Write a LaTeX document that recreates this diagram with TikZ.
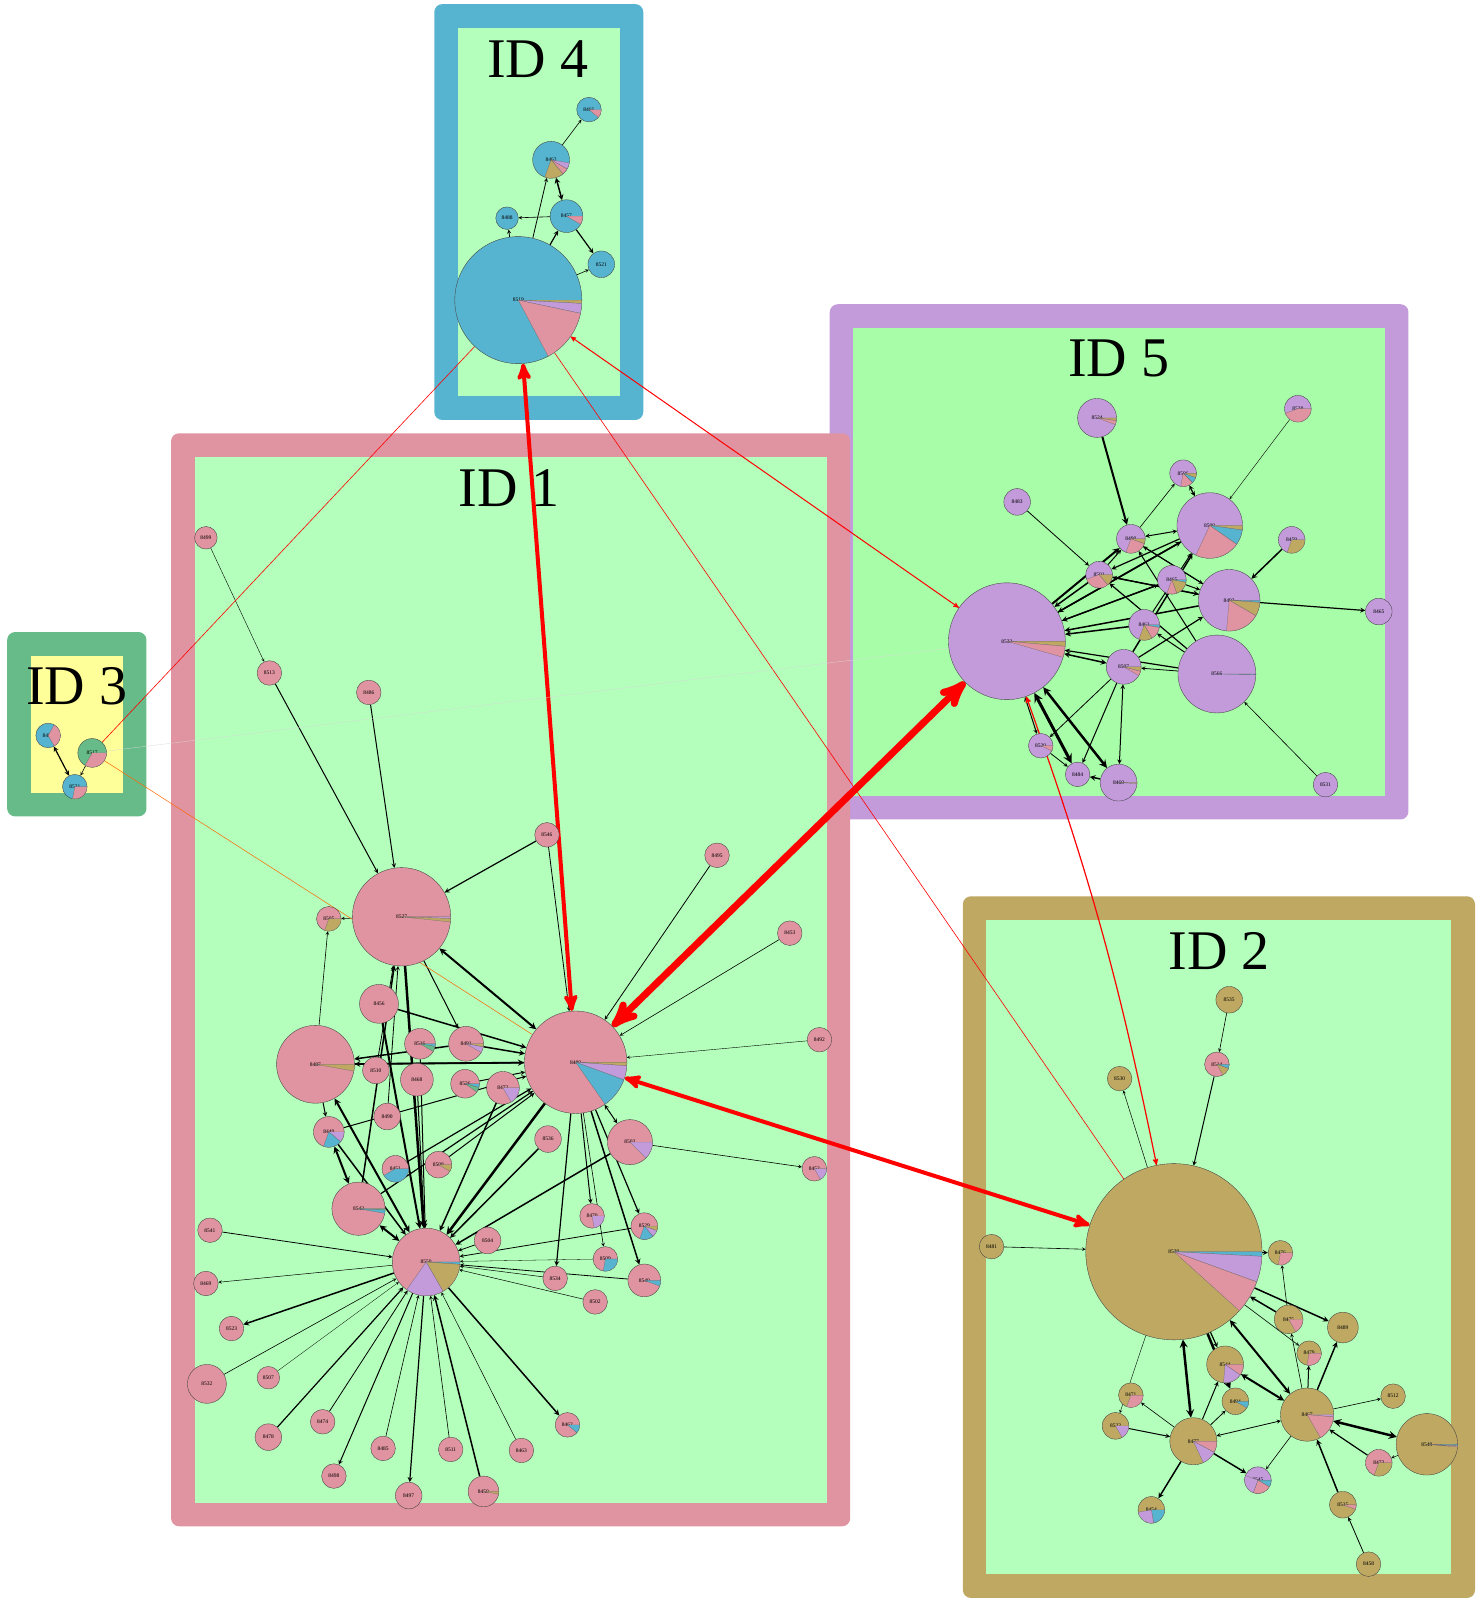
\documentclass[tikz,border=0pt]{standalone}
\usepackage{fontspec}
\setmainfont{Liberation Serif}
\usetikzlibrary{arrows}
\definecolor{pinkC}{HTML}{E093A0}
\definecolor{blueC}{HTML}{56B4D0}
\definecolor{purC}{HTML}{C39BDB}
\definecolor{tanC}{HTML}{BEA862}
\definecolor{grnC}{HTML}{66BB88}
\definecolor{bgA}{HTML}{B3FFBB}
\definecolor{bgB}{HTML}{A8FDA8}
\definecolor{yelC}{HTML}{FFFF99}
\pgfdeclarelayer{bg}
\pgfdeclarelayer{edges}
\pgfsetlayers{bg,edges,main}
% pie node: name, x, y, radius, colour, label
\newcommand{\pn}[6]{\node[pnode,fill=#5,minimum size={2.05*#4pt}] (#1) at (#2,#3) {#6};}
% slice: x, y, radius, from, to, colour
\newcommand{\sls}[6]{\fill[#6,draw=black!60,line width=.2pt] (#1,#2) -- ++(#4:#3) arc[start angle=#4,end angle=#5,radius=#3] -- cycle;}
% cluster box: x1, y1, x2, y2, border, inside, title x, title y, title
\newcommand{\cbox}[9]{%
  \fill[#5,rounded corners=8] (#1,#2) rectangle (#3,#4);
  \fill[#6] ({#1+23},{#2+23}) rectangle ({#3-23},{#4-23});
  \node[idtitle] (t#9) at (#7,#8) {ID #9};}
\begin{document}
\begin{tikzpicture}[x=1.0246pt,y=-1.0246pt,>=stealth,
  pnode/.style={circle,draw=black!75,line width=.35pt,inner sep=0pt,font=\fontsize{5.5}{6}\selectfont},
  idtitle/.style={font=\fontsize{56}{56}\selectfont,inner sep=0pt},
  rline/.style={draw=red,<->,>=stealth'}]
\useasboundingbox (0,0) rectangle (1444.5,1562);
\begin{pgfonlayer}{bg}
\cbox{424}{4}{628}{410}{blueC}{bgA}{525}{58}{4}
\cbox{810}{297}{1375}{800}{purC}{bgB}{1092}{350}{5}
\cbox{167}{423}{830}{1490}{pinkC}{bgA}{497}{476}{1}
\cbox{7}{617}{143}{797}{grnC}{yelC}{75}{670}{3}
\cbox{940}{875}{1440}{1560}{tanC}{bgA}{1190}{928}{2}
\end{pgfonlayer}

% ID 4
\pn{n8466}{575}{107}{12}{blueC}{8466}
\pn{n8462}{538}{156}{18}{blueC}{8462}
\pn{n8457}{553}{211}{16}{blueC}{8457}
\pn{n8488}{495}{213}{11}{blueC}{8488}
\pn{n8521}{587}{258}{13}{blueC}{8521}
\pn{n8519}{506}{293}{62}{blueC}{8519}
\sls{506}{293}{62}{0}{3}{tanC}\sls{506}{293}{62}{3}{12}{purC}\sls{506}{293}{62}{12}{62}{pinkC}
\sls{538}{156}{18}{10}{30}{purC}\sls{538}{156}{18}{30}{50}{pinkC}\sls{538}{156}{18}{50}{110}{tanC}
\sls{575}{107}{12}{0}{40}{pinkC}\sls{553}{211}{16}{0}{30}{pinkC}

% ID 3
\pn{n8482}{47}{718}{12}{blueC}{8482}
\pn{n8517}{90}{735}{14}{grnC}{8517}
\pn{n8521c}{73}{768}{12}{blueC}{8521}
\sls{47}{718}{12}{-60}{60}{pinkC}\sls{90}{735}{14}{0}{120}{pinkC}\sls{73}{768}{12}{0}{100}{pinkC}

% ID 5
\pn{n8524}{1071}{408}{19}{purC}{8524}
\pn{n8538}{1267}{399}{13}{purC}{8538}
\pn{n8483}{993}{490}{13}{purC}{8483}
\pn{n8506}{1155}{462}{13}{purC}{8506}
\pn{n8500}{1181}{513}{32}{purC}{8500}
\pn{n8459}{1261}{527}{13}{purC}{8459}
\pn{n8490}{1104}{526}{14}{purC}{8490}
\pn{n8501}{1073}{561}{13}{purC}{8501}
\pn{n8465}{1144}{566}{14}{purC}{8465}
\pn{n8493}{1200}{586}{30}{purC}{8493}
\pn{n8469}{1346}{597}{13}{purC}{8465}
\pn{n8461}{1117}{610}{15}{purC}{8461}
\pn{n8533}{983}{626}{57}{purC}{8533}
\pn{n8507}{1097}{651}{17}{purC}{8507}
\pn{n8566}{1188}{658}{38}{purC}{8566}
\pn{n8520}{1016}{728}{12}{purC}{8520}
\pn{n8484}{1052}{756}{12}{purC}{8484}
\pn{n8460}{1092}{764}{18}{purC}{8460}
\pn{n8531}{1294}{766}{12}{purC}{8531}
\sls{983}{626}{57}{0}{5}{tanC}\sls{983}{626}{57}{5}{16}{pinkC}
\sls{1181}{513}{32}{0}{8}{tanC}\sls{1181}{513}{32}{8}{35}{blueC}\sls{1181}{513}{32}{35}{115}{pinkC}
\sls{1200}{586}{30}{0}{4}{blueC}\sls{1200}{586}{30}{4}{30}{tanC}\sls{1200}{586}{30}{30}{95}{pinkC}
\sls{1071}{408}{19}{0}{8}{tanC}\sls{1071}{408}{19}{8}{20}{pinkC}
\sls{1267}{399}{13}{0}{160}{pinkC}\sls{1261}{527}{13}{0}{110}{tanC}
\sls{1155}{462}{13}{0}{20}{tanC}\sls{1155}{462}{13}{20}{45}{blueC}\sls{1155}{462}{13}{45}{100}{pinkC}
\sls{1104}{526}{14}{0}{20}{tanC}\sls{1104}{526}{14}{20}{110}{pinkC}
\sls{1073}{561}{13}{0}{50}{tanC}\sls{1073}{561}{13}{50}{160}{pinkC}
\sls{1144}{566}{14}{0}{10}{blueC}\sls{1144}{566}{14}{10}{70}{tanC}\sls{1144}{566}{14}{70}{110}{pinkC}
\sls{1117}{610}{15}{0}{10}{blueC}\sls{1117}{610}{15}{10}{60}{pinkC}\sls{1117}{610}{15}{60}{110}{tanC}
\sls{1097}{651}{17}{0}{15}{tanC}\sls{1097}{651}{17}{15}{30}{pinkC}
\sls{1188}{658}{38}{0}{1}{blueC}\sls{1016}{728}{12}{0}{25}{pinkC}\sls{1092}{764}{18}{0}{3}{tanC}

% ID 1
\pn{n8499}{201}{525}{11}{pinkC}{8499}
\pn{n8513}{263}{657}{12}{pinkC}{8513}
\pn{n8486}{360}{676}{12}{pinkC}{8486}
\pn{n8546}{534}{815}{12}{pinkC}{8546}
\pn{n8495}{700}{835}{12}{pinkC}{8495}
\pn{n8527}{392}{895}{48}{pinkC}{8527}
\pn{n8505}{321}{897}{12}{pinkC}{8505}
\pn{n8453}{771}{911}{12}{pinkC}{8453}
\pn{n8456}{370}{980}{19}{pinkC}{8456}
\pn{n8480}{562}{1037}{50}{pinkC}{8480}
\pn{n8487}{308}{1039}{38}{pinkC}{8487}
\pn{n8516}{410}{1019}{15}{pinkC}{8516}
\pn{n8491}{455}{1019}{17}{pinkC}{8491}
\pn{n8510}{367}{1045}{13}{pinkC}{8510}
\pn{n8468}{407}{1054}{16}{pinkC}{8468}
\pn{n8526}{454}{1058}{14}{pinkC}{8526}
\pn{n8472}{491}{1062}{16}{pinkC}{8472}
\pn{n8492}{800}{1015}{12}{pinkC}{8492}
\pn{n8490b}{378}{1090}{13}{pinkC}{8490}
\pn{n8449}{321}{1105}{15}{pinkC}{8449}
\pn{n8536}{535}{1112}{13}{pinkC}{8536}
\pn{n8503}{615}{1115}{22}{pinkC}{8503}
\pn{n8452}{795}{1141}{12}{pinkC}{8452}
\pn{n8451}{386}{1141}{13}{pinkC}{8451}
\pn{n8508}{428}{1137}{13}{pinkC}{8508}
\pn{n8542}{350}{1180}{26}{pinkC}{8542}
\pn{n8541}{205}{1201}{12}{pinkC}{8541}
\pn{n8504}{476}{1211}{13}{pinkC}{8504}
\pn{n8470}{578}{1187}{12}{pinkC}{8470}
\pn{n8529}{629}{1197}{13}{pinkC}{8529}
\pn{n8550}{416}{1232}{33}{pinkC}{8550}
\pn{n8509}{591}{1229}{12}{pinkC}{8509}
\pn{n8534}{542}{1248}{12}{pinkC}{8534}
\pn{n8540}{629}{1250}{16}{pinkC}{8540}
\pn{n8469b}{201}{1253}{12}{pinkC}{8469}
\pn{n8502}{581}{1271}{12}{pinkC}{8502}
\pn{n8523}{226}{1297}{12}{pinkC}{8523}
\pn{n8532}{202}{1351}{19}{pinkC}{8532}
\pn{n8507b}{262}{1345}{11}{pinkC}{8507}
\pn{n8462b}{554}{1391}{12}{pinkC}{8462}
\pn{n8474}{315}{1388}{12}{pinkC}{8474}
\pn{n8478}{262}{1403}{13}{pinkC}{8478}
\pn{n8485}{374}{1414}{12}{pinkC}{8485}
\pn{n8511}{440}{1415}{12}{pinkC}{8511}
\pn{n8463}{509}{1416}{12}{pinkC}{8463}
\pn{n8498}{326}{1441}{12}{pinkC}{8498}
\pn{n8497}{399}{1460}{13}{pinkC}{8497}
\pn{n8450}{472}{1456}{15}{pinkC}{8450}
\sls{562}{1037}{50}{0}{4}{tanC}\sls{562}{1037}{50}{4}{20}{purC}\sls{562}{1037}{50}{20}{55}{blueC}
\sls{392}{895}{48}{0}{2}{purC}\sls{392}{895}{48}{2}{6}{tanC}
\sls{308}{1039}{38}{0}{10}{tanC}
\sls{416}{1232}{33}{0}{4}{blueC}\sls{416}{1232}{33}{4}{60}{tanC}\sls{416}{1232}{33}{60}{125}{purC}
\sls{350}{1180}{26}{0}{3}{grnC}\sls{350}{1180}{26}{3}{10}{blueC}
\sls{321}{1105}{15}{0}{40}{purC}\sls{321}{1105}{15}{40}{110}{blueC}
\sls{386}{1141}{13}{0}{150}{blueC}\sls{428}{1137}{13}{0}{30}{tanC}
\sls{615}{1115}{22}{0}{45}{purC}\sls{321}{897}{12}{0}{110}{tanC}
\sls{410}{1019}{15}{0}{10}{blueC}\sls{410}{1019}{15}{10}{30}{grnC}
\sls{455}{1019}{17}{0}{10}{tanC}\sls{455}{1019}{17}{10}{30}{purC}
\sls{454}{1058}{14}{0}{15}{blueC}\sls{454}{1058}{14}{15}{35}{grnC}
\sls{491}{1062}{16}{0}{60}{purC}\sls{578}{1187}{12}{0}{80}{purC}
\sls{629}{1197}{13}{0}{20}{tanC}\sls{629}{1197}{13}{20}{50}{purC}\sls{629}{1197}{13}{50}{110}{blueC}
\sls{591}{1229}{12}{0}{100}{blueC}\sls{629}{1250}{16}{0}{20}{blueC}
\sls{795}{1141}{12}{0}{60}{purC}\sls{554}{1391}{12}{0}{40}{blueC}\sls{472}{1456}{15}{0}{10}{tanC}

% ID 2
\pn{n8535}{1200}{976}{13}{tanC}{8535}
\pn{n8514}{1188}{1039}{12}{pinkC}{8514}
\pn{n8530}{1093}{1053}{12}{tanC}{8530}
\pn{n8481}{968}{1217}{12}{tanC}{8481}
\pn{n8539}{1146}{1222}{86}{tanC}{8539}
\pn{n8476}{1250}{1223}{12}{tanC}{8476}
\pn{n8475}{1258}{1288}{14}{tanC}{8475}
\pn{n8489}{1311}{1296}{15}{tanC}{8489}
\pn{n8479}{1278}{1321}{12}{tanC}{8479}
\pn{n8544}{1196}{1332}{18}{tanC}{8544}
\pn{n8471}{1104}{1362}{12}{tanC}{8471}
\pn{n8494}{1206}{1368}{13}{tanC}{8494}
\pn{n8512}{1360}{1363}{12}{tanC}{8512}
\pn{n8522}{1089}{1392}{13}{tanC}{8522}
\pn{n8467}{1276}{1381}{26}{tanC}{8467}
\pn{n8477}{1165}{1407}{23}{tanC}{8477}
\pn{n8549}{1393}{1410}{30}{tanC}{8549}
\pn{n8473}{1346}{1428}{13}{pinkC}{8473}
\pn{n8545}{1228}{1445}{13}{purC}{8545}
\pn{n8454}{1124}{1474}{13}{tanC}{8454}
\pn{n8515}{1311}{1469}{13}{tanC}{8515}
\pn{n8458}{1336}{1527}{12}{tanC}{8458}
\sls{1146}{1222}{86}{0}{3}{blueC}\sls{1146}{1222}{86}{3}{20}{purC}\sls{1146}{1222}{86}{20}{42}{pinkC}
\sls{1276}{1381}{26}{0}{5}{purC}\sls{1276}{1381}{26}{5}{60}{pinkC}
\sls{1165}{1407}{23}{0}{28}{pinkC}\sls{1165}{1407}{23}{28}{65}{purC}
\sls{1393}{1410}{30}{0}{3}{blueC}\sls{1393}{1410}{30}{3}{5}{pinkC}
\sls{1196}{1332}{18}{0}{35}{pinkC}\sls{1196}{1332}{18}{35}{95}{purC}
\sls{1250}{1223}{12}{0}{100}{pinkC}\sls{1258}{1288}{14}{0}{60}{pinkC}
\sls{1278}{1321}{12}{0}{100}{pinkC}\sls{1104}{1362}{12}{0}{110}{pinkC}
\sls{1089}{1392}{13}{0}{60}{purC}\sls{1206}{1368}{13}{0}{30}{blueC}
\sls{1188}{1039}{12}{0}{20}{blueC}\sls{1188}{1039}{12}{20}{60}{tanC}
\sls{1346}{1428}{13}{0}{110}{tanC}\sls{1311}{1469}{13}{0}{20}{pinkC}
\sls{1228}{1445}{13}{0}{30}{blueC}\sls{1228}{1445}{13}{30}{110}{pinkC}\sls{1228}{1445}{13}{110}{200}{purC}
\sls{1124}{1474}{13}{0}{80}{blueC}\sls{1124}{1474}{13}{80}{170}{purC}

\begin{pgfonlayer}{edges}
% inside the clusters
\foreach \a/\b/\w in {n8462/n8466/.6,n8519/n8462/.8,n8519/n8488/.8,n8519/n8457/1.2,
  n8457/n8488/.6,n8457/n8521/1.2,n8519/n8521/.6,n8517/n8521c/.6,
  n8524/n8490/2,n8538/n8500/.4,n8483/n8501/.8,n8459/n8493/1.5,n8493/n8469/1.2,
  n8531/n8566/.6,n8566/n8507/.8,n8566/n8533/1.2,n8493/n8533/1.5,n8500/n8533/1.5,
  n8533/n8490/2,n8461/n8533/1.5,n8501/n8533/1.5,n8465/n8533/1.5,n8490/n8506/.6,
  n8501/n8493/1.5,n8490/n8493/1,n8465/n8493/1,n8507/n8500/1.5,n8507/n8493/1.2,
  n8461/n8500/1,n8566/n8501/1.2,n8566/n8490/1,n8507/n8484/1,n8507/n8520/.8,
  n8520/n8484/.8,n8460/n8484/1.5,n8501/n8490/1,n8493/n8490/1,n8533/n8465/1,
  n8566/n8461/1,n8500/n8501/1.2,n8533/n8500/1.5,n8493/n8501/1,
  n8499/n8513/.4,n8513/n8527/1,n8486/n8527/1,n8546/n8527/1.2,n8546/n8480/.8,
  n8495/n8480/.8,n8453/n8480/.6,n8492/n8480/.4,n8503/n8452/.6,n8487/n8505/.6,
  n8527/n8550/2.5,n8456/n8480/1.5,n8541/n8550/.8,n8550/n8469b/.5,n8550/n8523/1.5,
  n8532/n8550/.6,n8507b/n8550/.3,n8478/n8550/1.2,n8474/n8550/.8,n8550/n8498/1,
  n8485/n8550/.6,n8550/n8497/1.2,n8511/n8550/.6,n8450/n8550/1.5,n8463/n8550/.5,
  n8550/n8462b/1.5,n8534/n8550/.5,n8502/n8550/.5,n8540/n8550/.8,n8529/n8550/.8,
  n8504/n8550/.8,n8509/n8550/.3,n8480/n8470/1,n8480/n8529/1.2,n8480/n8540/1.5,
  n8480/n8534/1.2,n8480/n8509/.6,n8487/n8449/1,n8536/n8550/1.5,n8480/n8550/2.5,
  n8472/n8550/1.5,n8491/n8487/1.5,n8480/n8487/1.5,n8456/n8550/2,n8468/n8550/1,
  n8516/n8550/1,n8510/n8527/.8,n8490b/n8527/.8,n8451/n8480/1.2,n8508/n8480/1,
  n8449/n8480/1,n8526/n8480/1,n8491/n8480/1.5,n8542/n8480/1.2,n8487/n8480/1.8,
  n8503/n8550/1.5,n8527/n8491/1,n8527/n8505/.5,n8542/n8527/1.5,n8449/n8550/1.5,
  n8535/n8514/.6,n8514/n8539/1,n8539/n8530/.5,n8481/n8539/.6,n8539/n8476/1.2,
  n8539/n8489/1.5,n8475/n8539/1.5,n8539/n8479/.6,n8475/n8476/.6,n8539/n8544/1.2,
  n8539/n8494/2.5,n8467/n8475/.6,n8467/n8479/1,n8467/n8489/1.5,n8467/n8512/.6,
  n8473/n8467/1.2,n8549/n8473/.5,n8515/n8467/1.5,n8458/n8515/.8,n8467/n8545/.6,
  n8477/n8545/1.5,n8477/n8544/1,n8477/n8494/.8,n8477/n8471/.6,n8522/n8477/1,
  n8539/n8522/.4,n8477/n8454/1.5}
  \draw[->,line width=\w pt] (\a) -- (\b);
\foreach \a/\b/\w in {n8457/n8462/1.5,n8521c/n8482/1.2,n8490/n8500/1,n8506/n8500/1.2,
  n8507/n8533/1.5,n8533/n8520/1,n8533/n8484/3,n8533/n8460/2.5,n8507/n8460/1,
  n8527/n8480/2,n8480/n8503/1,n8542/n8550/2,n8487/n8550/2,n8449/n8542/2,
  n8539/n8477/2.5,n8467/n8539/2,n8544/n8467/2,n8467/n8549/2.5,n8467/n8477/.8}
  \draw[<->,line width=\w pt] (\a) -- (\b);
% between the clusters
\draw[rline,line width=4pt] (n8480) -- (n8519);
\draw[rline,line width=7pt] (n8480) -- (n8533);
\draw[rline,line width=4pt] (n8480) -- (n8539);
\draw[rline,line width=1pt] (n8519) -- (n8533);
\draw[rline,line width=1.2pt] (n8533) to[bend left=4] (n8539);
\draw[red,line width=.6pt] (n8519) -- (n8539);
\draw[red,line width=.6pt] (n8519) -- (n8517);
\draw[orange!80!red,line width=.5pt] (n8517) -- (n8480);
\draw[black!15,line width=.3pt] (n8517) -- (n8533);
\end{pgfonlayer}
\end{tikzpicture}
\end{document}
